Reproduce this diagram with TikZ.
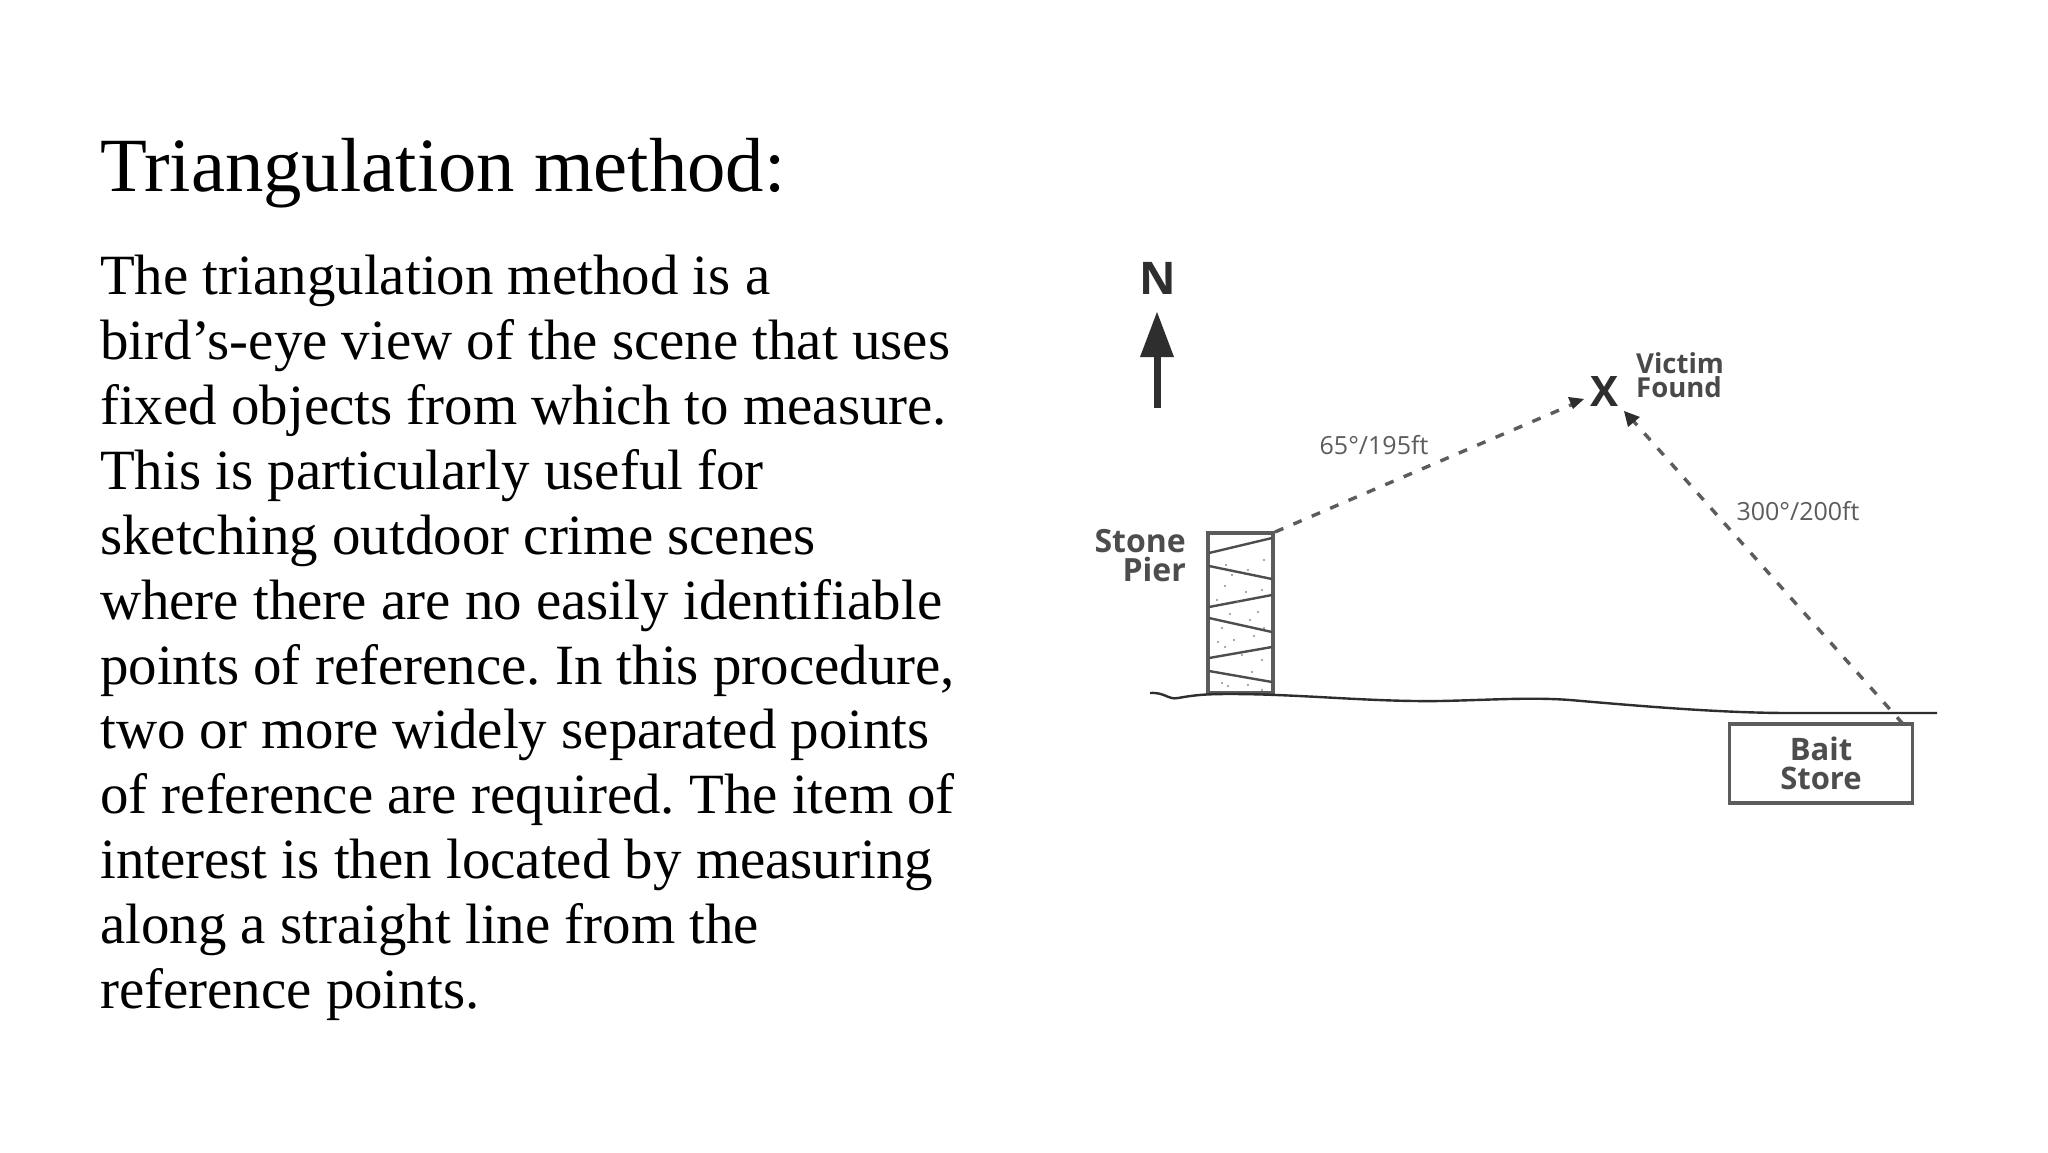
\documentclass[tikz,border=0pt]{standalone}
\usepackage{fontspec}
\setmainfont{Liberation Serif}
\newfontfamily\lab{Open Sans}
\frenchspacing
\definecolor{ink}{gray}{0.18}
\definecolor{soft}{gray}{0.36}
\tikzset{
 title/.style={anchor=base west,inner sep=0pt,font=\fontsize{76.7}{80}\selectfont,text=black},
 body/.style={anchor=north west,inner sep=0pt,align=left,font=\fontsize{56.9}{64.9}\selectfont,text=black},
 lbl/.style={inner sep=0pt,font=\lab\bfseries\fontsize{32}{29.5}\selectfont,text=ink!85},
 small/.style={inner sep=0pt,font=\lab\fontsize{25}{24}\selectfont,text=soft},
 thin/.style={draw=ink!85,line width=2.4pt},
 dashline/.style={draw=soft,line width=3.4pt,dash pattern=on 9pt off 11pt},
 dot/.style={fill=soft!70,circle,inner sep=0pt,minimum size=2.4pt}
}
\begin{document}
\begin{tikzpicture}[x=1pt,y=-1pt]
\useasboundingbox (0,0) rectangle (2048,1152);
\fill[white] (0,0) rectangle (2048,1152);
\node[title] (head) at (100,191) {Triangulation method:};
\node[body] (text) at (100,255) {The triangulation method is a\\
bird’s-eye view of the scene that uses\\
fixed objects from which to measure.\\
This is particularly useful for\\
sketching outdoor crime scenes\\
where there are no easily identifiable\\
points of reference. In this procedure,\\
two or more widely separated points\\
of reference are required. The item of\\
interest is then located by measuring\\
along a straight line from the\\
reference points.};
% north arrow
\node[inner sep=0pt,font=\lab\bfseries\fontsize{45}{45}\selectfont,text=ink] (north) at (1157.5,278) {N};
\coordinate (ntail) at (1157,408);
\coordinate (nneck) at (1157,355);
\coordinate (nhead) at (1157,312);
\draw[ink,line width=7pt] (ntail) -- (nneck);
\fill[ink] (nhead) -- (1174,357) -- (1140,357) -- cycle;
% pier
\node[draw=soft,line width=3.4pt,minimum width=65pt,minimum height=160pt,inner sep=0pt] (pier) at (1240.5,613) {};
\draw[thin] (1209,553) -- (1272,538);
\draw[thin] (1209,566) -- (1272,579);
\draw[thin] (1209,607) -- (1272,595);
\draw[thin] (1209,618) -- (1272,632);
\draw[thin] (1209,658) -- (1272,647);
\draw[thin] (1209,671) -- (1272,682);
\foreach \a/\b in {1226/565,1248/570,1262/590,1225/586,1246/592,1238/602,1258/612,1222/628,1234/640,1254/636,1264/628,1242/655,1225/647,1222/683,1228/686,1252/672,1262/660,1217/600,1250/620,1232/575,1264/560,1230/614,1248/685,1262/690,1218/642}
  \node[dot] at (\a,\b) {};
\node[lbl,anchor=north east,align=right] (pierlab) at (1186,529) {Stone\\Pier};
% ground
\coordinate (gl) at (1150,693);
\coordinate (gr) at (1937,713);
\draw[ink,line width=2.4pt] (gl) .. controls (1165,692) and (1168,700) .. (1178,698)
 .. controls (1195,695) and (1205,694) .. (1230,694)
 .. controls (1300,694) and (1370,702) .. (1440,701)
 .. controls (1490,700) and (1530,697) .. (1570,700)
 .. controls (1640,706) and (1720,713) .. (1790,713) -- (gr);
% bait store
\node[draw=soft,line width=3.4pt,minimum width=183pt,minimum height=79pt,inner sep=0pt,align=center,font=\lab\bfseries\fontsize{31}{29.5}\selectfont,text=ink!85] (store) at (1821,763.5) {Bait\\Store};
% victim
\node[inner sep=0pt,font=\lab\bfseries\fontsize{42}{42}\selectfont,text=ink] (x) at (1604,391) {X};
\node[inner sep=0pt,anchor=north west,align=left,font=\lab\bfseries\fontsize{27.5}{24}\selectfont,text=soft!80!black] (victim) at (1636,352) {Victim\\Found};
% measured lines
\coordinate (ptop) at (1275,532);
\coordinate (stop) at (1903,724);
\draw[dashline] (ptop) -- (1578,402);
\draw[dashline] (stop) -- (1628,415);
\fill[ink] (1584,399) -- (1568,397) -- (1573,409) -- cycle;
\fill[ink] (1624,411) -- (1628,427) -- (1640,417) -- cycle;
\node[small] (lab1) at (1374,445) {65°/195ft};
\node[small] (lab2) at (1798,511) {300°/200ft};
\end{tikzpicture}
\end{document}
